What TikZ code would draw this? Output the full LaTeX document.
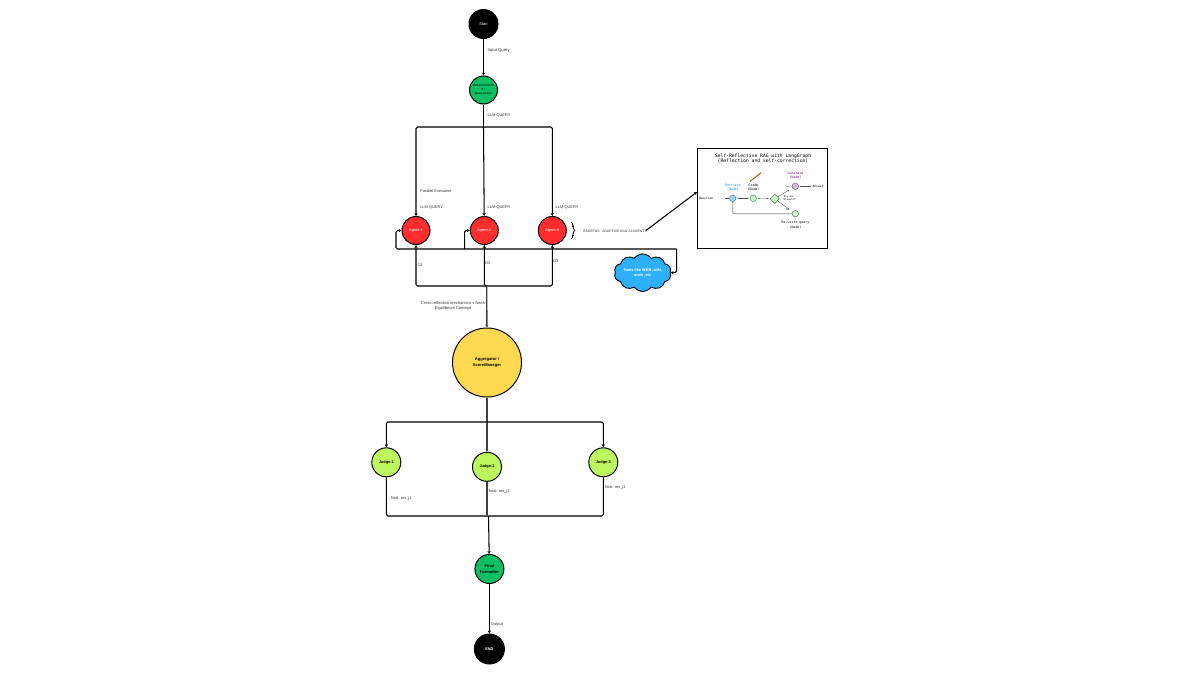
\documentclass[tikz,border=0pt]{standalone}
\usepackage{fontspec}
\setmainfont{Liberation Sans}
\newfontfamily\monof{DejaVu Sans Mono}
\usetikzlibrary{arrows.meta,shapes.geometric,shapes.symbols,decorations.pathreplacing,calligraphy}
\definecolor{grn}{HTML}{0DBF62}
\definecolor{rd}{HTML}{FF2D2D}
\definecolor{yel}{HTML}{FFD94F}
\definecolor{lime}{HTML}{BDF95E}
\definecolor{sky}{HTML}{2FB0FF}
\tikzset{
  circ/.style={circle,draw=black,line width=1pt,inner sep=0pt,align=center,font=\fontsize{3.9}{5}\selectfont},
  lbl/.style={font=\fontsize{3.9}{5.2}\selectfont,text=black!80,inner sep=0pt,align=center},
  conn/.style={line width=1.05pt,rounded corners=1.5pt},
  arr/.style={conn,-{Stealth[length=3pt,width=3.2pt]}},
  thick2/.style={line width=1.4pt,draw=black!75},
  mini/.style={font=\monof\fontsize{3.3}{4.3}\selectfont,inner sep=0pt,align=center},
  mc/.style={circle,draw=black!70,line width=0.3pt,inner sep=0pt,minimum size=6.5pt},
  marr/.style={line width=0.35pt,draw=black!70,-{Stealth[length=1.5pt,width=1.5pt]}}
}
\begin{document}
\begin{tikzpicture}[x=1pt,y=-1pt]
\useasboundingbox[fill=white] (0,0) rectangle (1200,675);
% bus points
\coordinate (t0) at (483.5,127);
\coordinate (bb) at (486.7,286);
\coordinate (ag) at (487,422);
\coordinate (jm) at (488.5,516);
\coordinate (tbl) at (396,249);
\coordinate (tbm) at (464.7,249);
\coordinate (tbr) at (676.7,249);
\coordinate (rs) at (646,230.5);
\coordinate (ip) at (697,192);
% main nodes
\node[circ,fill=black,text=white,minimum size=29pt] (start) at (483.5,24) {Start};
\node[circ,fill=grn,minimum size=28pt,font=\fontsize{2.8}{4}\selectfont] (orch) at (483.5,90) {ORCHESTRATE\\R +\\Query Refiner};
\node[circ,fill=rd,text=white,minimum size=28pt] (a1) at (416,230.5) {Agent-1};
\node[circ,fill=rd,text=white,minimum size=28pt] (a2) at (484.3,230.5) {Agent-2};
\node[circ,fill=rd,text=white,minimum size=28pt] (a3) at (552.3,230.5) {Agent-3};
\node[cloud,cloud puffs=10,cloud puff arc=110,aspect=1.8,draw=black,line width=0.9pt,fill=sky,text=white,inner sep=0pt,minimum width=57pt,minimum height=30pt,align=center,font=\bfseries\fontsize{3.9}{5.6}\selectfont] (cloud) at (642.7,272.7) {Tools like WEB ,wiki,\\arxiv ,etc};
\node[circ,fill=yel,minimum size=69pt,font=\bfseries\fontsize{4.1}{5.8}\selectfont] (agg) at (487,362.5) {Aggregator /\\ScoreManager};
\node[circ,fill=lime,minimum size=29pt,font=\bfseries\fontsize{3.9}{5}\selectfont] (j1) at (386.3,462.3) {Judge-1};
\node[circ,fill=lime,minimum size=29pt,font=\bfseries\fontsize{3.9}{5}\selectfont] (j2) at (487,466.8) {Judge-2};
\node[circ,fill=lime,minimum size=29pt,font=\bfseries\fontsize{3.9}{5}\selectfont] (j3) at (603.3,462.3) {Judge-3};
\node[circ,fill=grn,minimum size=29pt,font=\bfseries\fontsize{4.1}{6}\selectfont] (ff) at (489.4,569) {Final\\Formatter};
\node[circ,fill=black,text=white,minimum size=30pt,font=\bfseries\fontsize{3.9}{5}\selectfont] (end) at (489.4,649) {END};
% connectors
\draw[arr] (start) -- (orch);
\draw[conn] (orch) -- (t0);
\draw[arr] (t0) -| (a1);
\draw[arr] (t0) -- (a2);
\draw[arr] (t0) -| (a3);
\draw[arr] (bb) -| (a1);
\draw[arr] (bb) -| (a2);
\draw[arr] (bb) -| (a3);
\draw[arr,thick2] (bb) -- (agg);
\draw[arr] (tbr) -- (tbl) |- (a1);
\draw[arr] (tbm) |- (a2);
\draw[arr] (tbr) |- (cloud.east);
\draw[conn,thick2] (agg) -- (ag);
\draw[arr] (ag) -| (j1);
\draw[arr,thick2] (ag) -- (j2);
\draw[arr] (ag) -| (j3);
\draw[conn] (j1) |- (jm);
\draw[conn] (j3) |- (jm);
\draw[conn,thick2] (j2) -- (487,516);
\draw[arr] (jm) -- (ff);
\draw[arr] (ff) -- (end);
% labels
\node[lbl,anchor=west,font=\fontsize{4.2}{5}\selectfont] (l1) at (487.5,50.5) {Input Query};
\node[lbl,anchor=west] (l2) at (487.5,116) {LLM-QUERY};
\node[lbl,anchor=west] (l3) at (420,191.5) {Parallel Execution};
\node[lbl,anchor=west] (l4) at (420,208) {LLM-QUERY};
\node[lbl,anchor=west] (l5) at (487.5,208) {LLM-QUERY};
\node[lbl,anchor=west] (l6) at (555.5,208) {LLM-QUERY};
\node[lbl,anchor=west] (l7) at (417.5,265.5) {O1};
\node[lbl,anchor=west] (l8) at (485,263) {O2};
\node[lbl,anchor=west] (l9) at (553,261) {O3};
\node[lbl,font=\fontsize{4.05}{5.2}\selectfont] (l10) at (453,306.3) {Cross reflection mechanism + Nash\\Equilibrium Concept};
\node[lbl,anchor=west] (l11) at (391,498) {final: res\_j1};
\node[lbl,anchor=west] (l12) at (489,491) {final: res\_j2};
\node[lbl,anchor=west] (l13) at (605,487) {final: res\_j3};
\node[lbl,anchor=west] (l14) at (491,624.5) {Output};
\node[lbl,anchor=west,font=\fontsize{3.4}{5}\selectfont] (rag) at (583,231) {RAGETNS : ADAPTIVE RAG AI AGENTS};
\draw[line width=1.2pt,decorate,decoration={calligraphic brace,amplitude=4pt}] (571,222) -- (571,239);
% inset
\node[draw=black,line width=1pt,minimum width=130pt,minimum height=100pt,inner sep=0pt] (inset) at (762.3,198) {};
\draw[arr] (rs) -- (ip);
\node[mini,font=\monof\fontsize{4.7}{5.6}\selectfont] (ttl) at (763,158.5) {Self-Reflective RAG with LangGraph\\(Reflection and self-correction)};
\node[mini,font=\monof\fontsize{3}{4}\selectfont] (q) at (706,198.3) {Question};
\node[mc,fill=sky!50] (rt) at (732.7,198.3) {};
\node[mc,fill=green!25] (gr) at (753.3,198.3) {};
\node[diamond,draw=black!70,line width=0.3pt,fill=green!25,minimum size=9.5pt,inner sep=0pt] (dm) at (774.7,198.7) {};
\node[mc,fill=violet!30] (ge) at (795.3,186.3) {};
\node[mc,fill=green!25] (rw) at (795.3,213.7) {};
\node[mini,text=sky!80!black] (t1) at (733,187.5) {Retrieve\\(Node)};
\node[mini] (t2) at (753.5,187.5) {Grade\\(Node)};
\node[mini,text=violet] (t3) at (795.5,175.7) {Generate\\(Node)};
\node[mini] (t4) at (795.5,225) {Re-write query\\(Node)};
\node[mini,font=\monof\fontsize{2.4}{3}\selectfont] (t5) at (789,198.3) {Any doc\\relevant?};
\node[mini,font=\monof\fontsize{3}{4}\selectfont] (ans) at (818,186.3) {Answer};
\node[mini,font=\monof\fontsize{2.2}{2.5}\selectfont] (t6) at (787.7,186.7) {Yes};
\node[mini,font=\monof\fontsize{2.2}{2.5}\selectfont] (t7) at (787.7,209.3) {No};
\draw[line width=1pt,draw=brown!80!black] (750,181.5) -- (761,172.7);
\draw[marr,shorten <=12pt] (q) -- (rt);
\draw[marr,shorten <=1.5pt,shorten >=1.5pt] (rt) -- (gr);
\draw[marr,shorten <=1.5pt,shorten >=1.5pt] (gr) -- (dm);
\draw[marr,shorten >=4pt] (dm) -- (ge);
\draw[marr,shorten >=4pt] (dm) -- (rw);
\draw[marr,shorten <=1.5pt,shorten >=1.5pt] (ge) -- (ans);
\draw[marr,rounded corners=0.8pt,line width=0.6pt,draw=black!45] (rw) -| (rt);
\end{tikzpicture}
\end{document}
